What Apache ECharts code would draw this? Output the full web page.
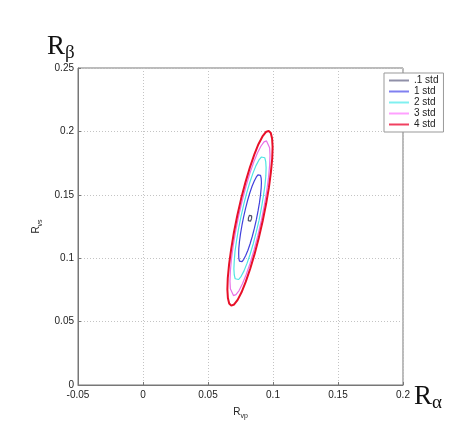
<!DOCTYPE html>
<html>
<head>
<meta charset="utf-8">
<script src="https://cdn.jsdelivr.net/npm/echarts@6/dist/echarts.min.js"></script>
<style>
  html, body { margin: 0; padding: 0; background: #fff; }
</style>
</head>
<body>
<div id="chart" style="width: 474px; height: 425px;"></div>
<script>
// contour outlines, [Rvp, Rvs]
const std01 = [[0.0835, 0.1312], [0.0827, 0.1292], [0.0817, 0.1285], [0.0810, 0.1296], [0.0811, 0.1318], [0.0819, 0.1338], [0.0829, 0.1345], [0.0836, 0.1334], [0.0835, 0.1312]]
const std1 = [[0.0872, 0.1305], [0.0857, 0.1237], [0.0841, 0.1173], [0.0824, 0.1114], [0.0807, 0.1063], [0.0790, 0.1021], [0.0775, 0.0991], [0.0762, 0.0973], [0.0751, 0.0969], [0.0742, 0.0977], [0.0737, 0.0999], [0.0736, 0.1033], [0.0737, 0.1077], [0.0742, 0.1131], [0.0750, 0.1192], [0.0761, 0.1258], [0.0774, 0.1325], [0.0789, 0.1393], [0.0805, 0.1457], [0.0822, 0.1516], [0.0839, 0.1567], [0.0856, 0.1609], [0.0871, 0.1639], [0.0884, 0.1657], [0.0895, 0.1662], [0.0904, 0.1653], [0.0909, 0.1631], [0.0911, 0.1598], [0.0909, 0.1553], [0.0904, 0.1499], [0.0896, 0.1438], [0.0885, 0.1373], [0.0872, 0.1305]]
const std2 = [[0.0893, 0.1301], [0.0871, 0.1205], [0.0848, 0.1114], [0.0824, 0.1031], [0.0800, 0.0959], [0.0777, 0.0900], [0.0755, 0.0857], [0.0736, 0.0832], [0.0721, 0.0826], [0.0709, 0.0838], [0.0702, 0.0868], [0.0699, 0.0916], [0.0702, 0.0979], [0.0708, 0.1055], [0.0720, 0.1141], [0.0735, 0.1234], [0.0754, 0.1330], [0.0775, 0.1425], [0.0798, 0.1516], [0.0822, 0.1599], [0.0846, 0.1671], [0.0869, 0.1730], [0.0891, 0.1773], [0.0910, 0.1798], [0.0925, 0.1805], [0.0937, 0.1792], [0.0944, 0.1762], [0.0947, 0.1714], [0.0945, 0.1651], [0.0938, 0.1575], [0.0926, 0.1489], [0.0911, 0.1396], [0.0893, 0.1301]]
const std3 = [[0.0910, 0.1297], [0.0883, 0.1178], [0.0854, 0.1065], [0.0824, 0.0961], [0.0794, 0.0871], [0.0765, 0.0798], [0.0739, 0.0745], [0.0715, 0.0713], [0.0696, 0.0705], [0.0681, 0.0720], [0.0672, 0.0759], [0.0669, 0.0818], [0.0672, 0.0897], [0.0680, 0.0991], [0.0694, 0.1098], [0.0713, 0.1214], [0.0736, 0.1333], [0.0763, 0.1452], [0.0792, 0.1565], [0.0822, 0.1669], [0.0852, 0.1759], [0.0881, 0.1832], [0.0908, 0.1885], [0.0931, 0.1917], [0.0950, 0.1925], [0.0965, 0.1910], [0.0974, 0.1872], [0.0977, 0.1812], [0.0974, 0.1734], [0.0966, 0.1639], [0.0952, 0.1532], [0.0933, 0.1416], [0.0910, 0.1297]]
const std4 = [[0.0921, 0.1295], [0.0891, 0.1161], [0.0858, 0.1032], [0.0824, 0.0915], [0.0790, 0.0813], [0.0758, 0.0731], [0.0728, 0.0671], [0.0701, 0.0635], [0.0679, 0.0626], [0.0663, 0.0643], [0.0653, 0.0686], [0.0649, 0.0753], [0.0652, 0.0842], [0.0662, 0.0949], [0.0678, 0.1070], [0.0699, 0.1201], [0.0725, 0.1335], [0.0755, 0.1470], [0.0788, 0.1598], [0.0822, 0.1715], [0.0856, 0.1817], [0.0888, 0.1899], [0.0919, 0.1960], [0.0945, 0.1995], [0.0967, 0.2004], [0.0983, 0.1987], [0.0993, 0.1944], [0.0997, 0.1877], [0.0994, 0.1788], [0.0984, 0.1681], [0.0969, 0.1560], [0.0947, 0.1429], [0.0921, 0.1295]]

const seriesNames = ['.1 std', '1 std', '2 std', '3 std', '4 std']
const seriesData = [std01, std1, std2, std3, std4]
const colors = ['#505068', '#4040dc', '#4ee4e4', '#e872e8', '#e81028']
const legendColors = ['#9090a8', '#8080f0', '#80f0f0', '#ffa0ff', '#f04060']
const widths = [1.2, 1.2, 1.2, 1.2, 2]

const chartDom = document.getElementById('chart')
const chart = echarts.init(chartDom)

const axisLabel = { fontFamily: 'Liberation Sans', fontSize: 10, color: '#222' }
const splitLine = { show: true, lineStyle: { color: '#c4c4c4', type: [1, 2], width: 1 } }
const nameRich = {
  r: { fontFamily: 'Liberation Sans', fontSize: 10, color: '#222' },
  s: { fontFamily: 'Liberation Sans', fontSize: 7, color: '#222', padding: [8, 0, 0, 0] }
}

const option = {
  animation: false,
  backgroundColor: '#fff',
  color: colors,
  grid: {
    left: 78, top: 68, right: 71, bottom: 32,
    show: true, borderColor: '#777', borderWidth: 1, backgroundColor: 'transparent'
  },
  legend: {
    orient: 'vertical',
    left: 384, top: 73,
    padding: [2, 5, 2, 5],
    itemWidth: 20, itemHeight: 11, itemGap: 0,
    borderColor: '#999', borderWidth: 1, backgroundColor: '#fff',
    textStyle: { fontFamily: 'Liberation Sans', fontSize: 10, color: '#222', lineHeight: 11 },
    data: seriesNames.map((name, i) => ({
      name: name,
      icon: 'path://M0,0H20V2H0Z',
      itemStyle: { color: legendColors[i] }
    }))
  },
  xAxis: {
    type: 'value',
    min: -0.05, max: 0.2, interval: 0.05,
    name: '{r|R}{s|vp}',
    nameLocation: 'middle', nameGap: 20,
    nameTextStyle: { rich: nameRich },
    axisLine: { onZero: false, lineStyle: { color: '#777' } },
    axisTick: { inside: true, length: 3, lineStyle: { color: '#777' } },
    axisLabel: Object.assign({ margin: 5, showMaxLabel: true, showMinLabel: true }, axisLabel),
    splitLine: splitLine
  },
  yAxis: {
    type: 'value',
    min: 0, max: 0.25, interval: 0.05,
    name: '{r|R}{s|vs}',
    nameLocation: 'middle', nameGap: 24,
    nameTextStyle: { rich: nameRich },
    axisLine: { onZero: false, lineStyle: { color: '#777' } },
    axisTick: { inside: true, length: 3, lineStyle: { color: '#777' } },
    axisLabel: Object.assign({ margin: 4, showMaxLabel: true, showMinLabel: true }, axisLabel),
    splitLine: splitLine
  },
  graphic: [
    {
      type: 'text', left: 47, top: 33, z: 100,
      style: {
        text: '{r|R}{b|β}',
        rich: {
          r: { fontFamily: 'Liberation Serif', fontSize: 27, fill: '#111' },
          b: { fontFamily: 'Liberation Serif', fontSize: 19, fill: '#111', padding: [14, 0, 0, 0] }
        }
      }
    },
    {
      type: 'text', left: 414, top: 383, z: 100,
      style: {
        text: '{r|R}{a|α}',
        rich: {
          r: { fontFamily: 'Liberation Serif', fontSize: 27, fill: '#111' },
          a: { fontFamily: 'Liberation Serif', fontSize: 19, fill: '#111', padding: [14, 0, 0, 0] }
        }
      }
    }
  ],
  series: seriesNames.map((name, i) => ({
    name: name,
    type: 'line',
    data: seriesData[i],
    symbol: 'none',
    lineStyle: { color: colors[i], width: widths[i] },
    itemStyle: { color: colors[i] }
  }))
}

chart.setOption(option)
</script>
</body>
</html>
